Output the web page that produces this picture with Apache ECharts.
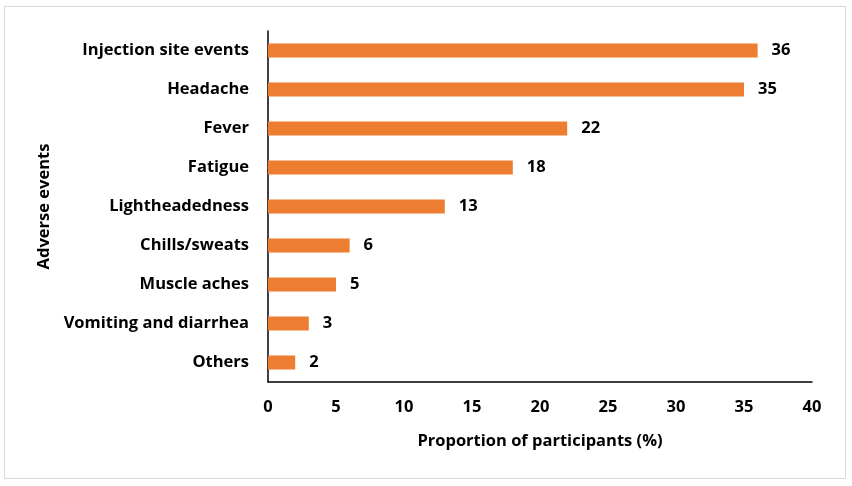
<!DOCTYPE html>
<html>
<head>
<meta charset="utf-8">
<script src="https://cdn.jsdelivr.net/npm/echarts@6/dist/echarts.min.js"></script>
<style>
  html, body { margin: 0; padding: 0; background: #fff; }
  #main { width: 852px; height: 486px; }
</style>
</head>
<body>
<div id="main"></div>
<script>
// categories listed bottom to top (category axis draws first at the bottom)
var events = ['Others', 'Vomiting and diarrhea', 'Muscle aches', 'Chills/sweats',
  'Lightheadedness', 'Fatigue', 'Fever', 'Headache', 'Injection site events'];
var proportions = [2, 3, 5, 6, 13, 18, 22, 35, 36];
var xTicks = [0, 5, 10, 15, 20, 25, 30, 35, 40];

var fontFam = '"Open Sans", sans-serif';
var fs = 16.5;

var chart = echarts.init(document.getElementById('main'));
chart.setOption({
  backgroundColor: '#fff',
  animation: false,
  graphic: [{
    type: 'rect',
    shape: { x: 4.5, y: 6.5, width: 841, height: 472 },
    style: { fill: 'none', stroke: '#d9d9d9', lineWidth: 1 },
    silent: true
  }],
  grid: { left: 268, right: 40, top: 31, bottom: 104, containLabel: false },
  xAxis: {
    type: 'value',
    min: xTicks[0],
    max: xTicks[xTicks.length - 1],
    interval: 5,
    name: 'Proportion of participants (%)',
    nameLocation: 'middle',
    nameGap: 51,
    nameTextStyle: { fontFamily: fontFam, fontWeight: 'bold', fontSize: fs, color: '#000' },
    axisLine: { show: true, lineStyle: { color: '#000', width: 1.5 } },
    axisTick: { show: false },
    splitLine: { show: false },
    axisLabel: { margin: 17, fontFamily: fontFam, fontWeight: 'bold', fontSize: fs, color: '#000' }
  },
  yAxis: {
    type: 'category',
    data: events,
    name: 'Adverse events',
    nameLocation: 'middle',
    nameGap: 213,
    nameRotate: 90,
    nameTextStyle: { fontFamily: fontFam, fontWeight: 'bold', fontSize: fs, color: '#000' },
    axisLine: { show: true, lineStyle: { color: '#000', width: 1.5 } },
    axisTick: { show: false },
    axisLabel: { margin: 19, fontFamily: fontFam, fontWeight: 'bold', fontSize: fs, color: '#000' }
  },
  series: [{
    type: 'bar',
    data: proportions,
    barWidth: 14,
    itemStyle: { color: '#ED7D31' },
    label: {
      show: true,
      position: 'right',
      distance: 14,
      fontFamily: fontFam,
      fontWeight: 'bold',
      fontSize: fs,
      color: '#000'
    }
  }]
});
</script>
</body>
</html>
